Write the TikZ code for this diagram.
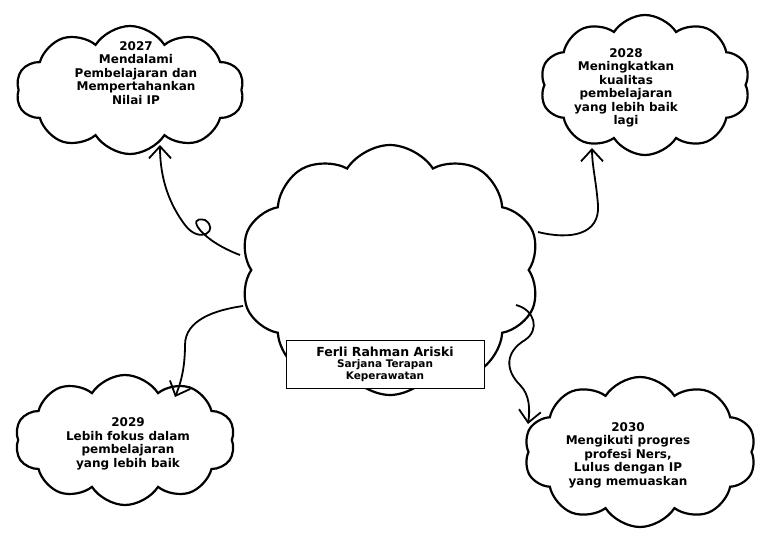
\documentclass[tikz,border=0pt]{standalone}
\usepackage{fontspec}
\setmainfont{DejaVu Sans}
\usetikzlibrary{shapes.symbols,arrows.meta}
\begin{document}
\begin{tikzpicture}[x=1pt,y=-1pt,
  awan/.style={cloud,draw,line width=2.2pt,cloud puffs=10,cloud puff arc=115,aspect=1.6,inner sep=0pt},
  teks/.style={align=center,font=\bfseries\fontsize{12}{13.5}\selectfont},
  sambung/.style={line width=1.8pt,-{Straight Barb[length=12pt,width=22pt]}}]
\useasboundingbox (0,0) rectangle (768,543);
% awan-awan
\node[awan,minimum width=228,minimum height=128] (k2027) at (130,90) {};
\node[awan,minimum width=210,minimum height=140] (k2028) at (645,85) {};
\node[awan,minimum width=300,minimum height=250] (pusat) at (390,270) {};
\node[awan,minimum width=220,minimum height=130] (k2029) at (125,440) {};
\node[awan,minimum width=232,minimum height=150] (k2030) at (640,452) {};
% teks
\node[teks] (t2027) at (136,73) {2027\\Mendalami\\Pembelajaran dan\\Mempertahankan\\Nilai IP};
\node[teks] (t2028) at (626,88) {2028\\Meningkatkan\\kualitas\\pembelajaran\\yang lebih baik\\lagi};
\node[teks] (t2029) at (128,444) {2029\\Lebih fokus dalam\\pembelajaran\\yang lebih baik};
\node[teks] (t2030) at (628,455) {2030\\Mengikuti progres\\profesi Ners,\\Lulus dengan IP\\yang memuaskan};
\node[draw,fill=white,line width=0.8pt,minimum width=198,minimum height=48,align=center,
  font=\fontsize{10.5}{11.5}\selectfont] (nama) at (385,364)
  {{\bfseries\fontsize{12.5}{14}\selectfont Ferli Rahman Ariski}\\\bfseries Sarjana Terapan\\\bfseries Keperawatan};
% penghubung
\coordinate (a1) at (240,255);
\coordinate (a2) at (538,232);
\coordinate (a3) at (243,306);
\coordinate (a4) at (516,305);
\draw[sambung] (a1) .. controls (200,240) and (185,215) .. (205,220) .. controls (220,230) and (200,245) .. (185,225) .. controls (170,205) and (160,180) .. (160,145);
\draw[sambung] (a2) .. controls (570,240) and (600,235) .. (598,205) .. controls (596,180) and (592,165) .. (592,148);
\draw[sambung] (a3) .. controls (215,310) and (185,320) .. (185,345) .. controls (185,370) and (180,385) .. (175,397);
\draw[sambung] (a4) .. controls (535,310) and (540,330) .. (525,340) .. controls (505,352) and (505,370) .. (520,385) .. controls (530,395) and (530,410) .. (528,424);
\end{tikzpicture}
\end{document}
